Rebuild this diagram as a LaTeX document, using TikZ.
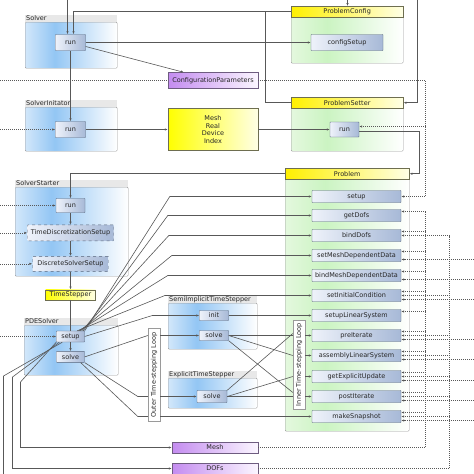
\documentclass[tikz,border=0pt]{standalone}
\usepackage{fontspec}
\setmainfont{DejaVu Sans}
\usepackage{graphicx}
\usetikzlibrary{positioning, arrows.meta}

\definecolor{wire}{HTML}{585858}
\definecolor{grpLine}{HTML}{9A9A9A}
\definecolor{titleGray}{HTML}{E8E8E8}
\definecolor{bluePale}{HTML}{D2E7FA}
\definecolor{blueMid}{HTML}{93C6F4}
\definecolor{greenPale}{HTML}{E4F8DE}
\definecolor{greenMid}{HTML}{CBF4C2}
\definecolor{hdrYellow}{HTML}{FFF000}
\definecolor{hdrPale}{HTML}{FFFFE6}
\definecolor{hdrLine}{HTML}{6E6E50}
\definecolor{methLight}{HTML}{EEF2FA}
\definecolor{methDark}{HTML}{A7B9D7}
\definecolor{methLine}{HTML}{56647A}
\definecolor{purpDark}{HTML}{C48CF0}
\definecolor{purpPale}{HTML}{FBF6FF}
\definecolor{purpLine}{HTML}{6E5C80}

\pgfdeclarehorizontalshading{blueGrp}{100bp}{color(0bp)=(bluePale); color(25bp)=(bluePale); color(41bp)=(blueMid); color(75bp)=(white); color(100bp)=(white)}
\pgfdeclarehorizontalshading{greenGrp}{100bp}{color(0bp)=(greenPale); color(25bp)=(greenPale); color(41bp)=(greenMid); color(75bp)=(white); color(100bp)=(white)}
\pgfdeclarehorizontalshading{hdrShade}{100bp}{color(0bp)=(hdrYellow); color(25bp)=(hdrYellow); color(75bp)=(hdrPale); color(100bp)=(hdrPale)}
\pgfdeclarehorizontalshading{methShade}{100bp}{color(0bp)=(methLight); color(25bp)=(methLight); color(75bp)=(methDark); color(100bp)=(methDark)}
\pgfdeclarehorizontalshading{purpShade}{100bp}{color(0bp)=(purpDark); color(25bp)=(purpDark); color(75bp)=(purpPale); color(100bp)=(purpPale)}
\pgfdeclarehorizontalshading{yellowShade}{100bp}{color(0bp)=(yellow); color(25bp)=(yellow); color(75bp)=(hdrPale); color(100bp)=(hdrPale)}

\begin{document}
\begin{tikzpicture}[x=1pt, y=-1pt,
        every node/.style={font=\fontsize{6.5}{7.7}\selectfont, text=black!85},
        grp/.style={draw=grpLine, rounded corners=1pt, shading=blueGrp, anchor=north west, inner sep=0pt},
        pgrp/.style={draw=grpLine, rounded corners=1pt, shading=greenGrp, anchor=north west, inner sep=0pt},
        grptitle/.style={anchor=south west, fill=titleGray, inner xsep=1pt, inner ysep=0.5pt, text height=4.8pt, text depth=1.2pt},
        hdr/.style={draw=hdrLine, shading=hdrShade, anchor=north, minimum height=11pt, inner sep=0pt},
        call/.style={draw=methLine, shading=methShade, inner sep=1pt, rounded corners=0.5pt},
        prep/.style={call, dashed},
        method/.style={call, minimum width=89pt, minimum height=12pt},
        param/.style={draw=purpLine, shading=purpShade, inner sep=1pt},
        ybox/.style={draw=hdrLine, shading=yellowShade, inner sep=1pt, align=center},
        loopbox/.style={draw=grpLine, fill=white, minimum width=12pt, inner sep=0pt},
        wireln/.style={wire, line width=0.6pt},
        arr/.style={wireln, -{Latex[length=3pt,width=2.4pt]}},
        dsh/.style={wireln, dash pattern=on 1pt off 1pt},
        dsharr/.style={dsh, -{Latex[length=3pt,width=2.4pt]}}
    ]
        \useasboundingbox (0,0) rectangle (474,474);
        % Solver
        \node[grp, minimum width=92pt, minimum height=46pt] (solverBox) at (25,22) {};
        \node[grptitle, text width=90pt] (solverTitle) at (solverBox.north west) {Solver};
        \node[call, minimum width=30pt, minimum height=16pt] (solverRun) at (70.5,42.5) {run};
        % SolverInitator
        \node[grp, minimum width=92pt, minimum height=44pt] (initBox) at (25,107) {};
        \node[grptitle, text width=90pt] (initTitle) at (initBox.north west) {SolverInitator};
        \node[call, minimum width=30pt, minimum height=16pt] (initRun) at (70.5,129.5) {run};
        % SolverStarter
        \node[grp, minimum width=113pt, minimum height=89pt] (starterBox) at (15,187) {};
        \node[grptitle, text width=111pt] (starterTitle) at (starterBox.north west) {SolverStarter};
        \node[call, minimum width=29pt, minimum height=14pt] (starterRun) at (70.5,205.5) {run};
        \node[prep, minimum width=86pt, minimum height=16pt, below=12pt of starterRun] (tds) {TimeDiscretizationSetup};
        \node[prep, minimum width=76pt, minimum height=15pt, below=15pt of tds] (dss) {DiscreteSolverSetup};
        \node[ybox, minimum width=50pt, minimum height=10pt, below=18pt of dss] (timeStepper) {TimeStepper};
        % PDESolver
        \node[grp, minimum width=94pt, minimum height=50pt] (pdeBox) at (24,325) {};
        \node[grptitle, text width=92pt] (pdeTitle) at (pdeBox.north west) {PDESolver};
        \node[call, minimum width=28pt, minimum height=11pt] (pdeSetup) at (70.5,336.5) {setup};
        \node[call, minimum width=28pt, minimum height=11pt, below=9pt of pdeSetup] (pdeSolve) {solve};
        % time steppers
        \node[grp, minimum width=89pt, minimum height=46pt] (semiBox) at (168,303) {};
        \node[grptitle, text width=87pt] (semiTitle) at (semiBox.north west) {SemiImplicitTimeStepper};
        \node[call, minimum width=29pt, minimum height=10pt] (semiInit) at (214,315.5) {init};
        \node[call, minimum width=29pt, minimum height=10pt] (semiSolve) at (214,335.5) {solve};
        \node[grp, minimum width=89pt, minimum height=30pt] (explBox) at (168,378) {};
        \node[grptitle, text width=87pt] (explTitle) at (explBox.north west) {ExplicitTimeStepper};
        \node[call, minimum width=30pt, minimum height=12pt] (explSolve) at (212,396.5) {solve};
        % loops
        \node[loopbox, minimum height=93pt] (outerLoop) at (154,375) {\rotatebox{90}{Outer Time-stepping Loop}};
        % data
        \node[param, minimum width=90pt, minimum height=16pt] (cfgParams) at (213,80.5) {ConfigurationParameters};
        \node[ybox, minimum width=90pt, minimum height=42pt] (meshData) at (213,129.5) {Mesh\\Real\\Device\\Index};
        \node[param, minimum width=86pt, minimum height=11pt] (mesh) at (215,447.5) {Mesh};
        \node[param, minimum width=86pt, minimum height=11pt] (dofs) at (215,468.5) {DOFs};
        % ProblemConfig and ProblemSetter
        \node[pgrp, minimum width=112pt, minimum height=57pt] (pcBox) at (291,6) {};
        \node[hdr, minimum width=112pt] (pcHead) at (pcBox.north) {ProblemConfig};
        \node[call, minimum width=72pt, minimum height=16pt] (confSetup) at (347,42.5) {configSetup};
        \node[pgrp, minimum width=112pt, minimum height=54pt] (psBox) at (291,97) {};
        \node[hdr, minimum width=112pt] (psHead) at (psBox.north) {ProblemSetter};
        \node[call, minimum width=29pt, minimum height=15pt] (psRun) at (344.5,129.5) {run};
        % Problem
        \node[pgrp, minimum width=124pt, minimum height=263pt] (probBox) at (285,168) {};
        \node[hdr, minimum width=124pt] (probHead) at (probBox.north) {Problem};
        \foreach \n/\t/\y in {mSetup/setup/196.5, mGetDofs/getDofs/215.5, mBindDofs/bindDofs/235.5,
            mSetMesh/setMeshDependentData/255.5, mBindMesh/bindMeshDependentData/275.5,
            mInitCond/setInitialCondition/295.5, mLinSys/setupLinearSystem/315.5,
            mPreIter/preIterate/335.5, mAssembly/assemblyLinearSystem/355.5,
            mExplUpd/getExplicitUpdate/376.5, mPostIter/postIterate/396.5, mSnapshot/makeSnapshot/416.5}
            \node[method] (\n) at (356.5,\y) {\t};
        \node[loopbox, minimum height=89pt] (innerLoop) at (299,364.5) {\rotatebox{90}{Inner Time-stepping Loop}};
        % helper coordinates
        \coordinate (edgeL) at (0,0);
        \coordinate (edgeR) at (474,0);
        \coordinate (topIn) at (67.5,0);
        \coordinate (topCfg) at (347.5,0);
        \coordinate (topSet) at (417.5,0);
        \coordinate (cfgJoin) at (265.5,0);
        \coordinate (setCol) at (419.5,0);
        \coordinate (meshCol) at (425.5,0);
        \coordinate (dofsCol) at (449.5,0);
        \coordinate (meshBend) at (20.5,382);
        \coordinate (dofsBend) at (12.5,377);
        \coordinate (leftOut) at (3.5,376);
        % top part
        \draw[arr] (topIn) -- (topIn |- solverRun.north);
        \draw[arr] (pcHead.west) -| ([xshift=3pt]solverRun.north);
        \draw[wireln] (psHead.west) -| (cfgJoin |- pcHead.west);
        \draw[arr] (topCfg) -- (topCfg |- pcHead.north);
        \draw[arr] (topSet) |- (psHead.east);
        \draw[arr] (solverRun.east) -- (confSetup.west);
        \draw[arr] ([yshift=-4pt]solverRun.east) -- ([xshift=16pt]cfgParams.north west);
        \draw[arr] (solverRun.south) -- (initRun.north);
        \draw[dsh] (edgeL |- cfgParams) -- (cfgParams.west);
        \draw[dsharr] (cfgParams.east) -| (meshCol |- mSetup.east) -- (mSetup.east);
        \path ([yshift=3pt]psRun.east) coordinate (psIn);
        \draw[dsharr] (meshCol |- psIn) -- (psIn);
        \draw[arr] ([yshift=-2pt]psRun.east) -| (setCol |- probHead.east) -- (probHead.east);
        \draw[dsharr] (edgeL |- initRun) -- (initRun.west);
        \draw[arr] (initRun.east) -- (meshData.west);
        \draw[arr] (meshData.east) -- (psRun.west);
        % starter chain
        \draw[arr] (probHead.west) -| (starterRun.north);
        \foreach \m in {starterRun, tds, dss, pdeSetup}
            \draw[dsharr] (edgeL |- \m) -- (\m.west);
        \draw[arr] (starterRun.south) -- (tds.north);
        \draw[arr] (tds.south) -- (dss.north);
        \draw[arr] (dss.south) -- (timeStepper.north);
        \draw[wireln] (timeStepper.south) -- (pdeSetup.north);
        \draw[arr] (pdeSetup.south) -- (pdeSolve.north);
        % setup fan
        \foreach \m/\dx/\sx in {mSetup/142/0, mGetDofs/144/1.5, mBindDofs/143/3, mSetMesh/140/4.5, mBindMesh/144/6, mInitCond/147/7.5}
            \draw[arr] ([xshift=-\sx pt]pdeSetup.north east) -- ([xshift=-\dx pt]\m.west) -- (\m.west);
        \draw[arr] (pdeSetup.east) -- ([xshift=-47pt]semiInit.west) -- (semiInit.west);
        \draw[arr] (semiInit.east) -- (mLinSys.west);
        \draw[arr] (pdeSetup.south west) -- (meshBend) |- (mesh.west);
        \draw[arr] ([xshift=3pt]pdeSetup.south west) -- (dofsBend) |- (dofs.west);
        \draw[wireln] ([xshift=6pt]pdeSetup.south west) -- (leftOut) -- (leftOut |- dofs.south);
        % outer loop
        \draw[wireln] (pdeSolve.east) -- (outerLoop.west |- semiSolve);
        \draw[wireln] (pdeSolve.south east) -- ([xshift=-10pt]outerLoop.west |- explSolve) -- (outerLoop.west |- explSolve);
        \draw[wireln] ([xshift=-4pt]pdeSolve.south east) -- ([xshift=-10pt]outerLoop.west |- mSnapshot) -- (outerLoop.west |- mSnapshot);
        \foreach \m in {semiSolve, explSolve, mSnapshot}
            \draw[arr] (outerLoop.east |- \m) -- (\m.west);
        % inner loop
        \draw[wireln] (semiSolve.east) -- (innerLoop.west |- mPreIter);
        \draw[wireln] (semiSolve.east) -- (innerLoop.west |- mAssembly);
        \draw[wireln] (semiSolve.south east) -- ([yshift=4pt]innerLoop.west |- mPostIter);
        \draw[wireln] (explSolve.north east) -- ([yshift=2pt]innerLoop.west |- mPreIter);
        \draw[wireln] (explSolve.east) -- (innerLoop.west |- mExplUpd);
        \draw[wireln] (explSolve.east) -- (innerLoop.west |- mPostIter);
        \foreach \m in {mPreIter, mAssembly, mExplUpd, mPostIter}
            \draw[arr] (innerLoop.east |- \m) -- (\m.west);
        % data columns on the right
        \path ([yshift=4pt]mGetDofs.east) coordinate (meshTop);
        \draw[dsh] (mesh.east) -| (meshCol |- meshTop);
        \draw[dsh] (dofs.east) -| (dofsCol |- mBindDofs.east);
        \foreach \m in {mGetDofs, mBindDofs, mSetMesh, mBindMesh, mInitCond, mLinSys, mPreIter, mAssembly, mExplUpd, mPostIter, mSnapshot}{
            \path ([yshift=4pt]\m.east) coordinate (tipPt);
            \draw[dsharr] (meshCol |- tipPt) -- (tipPt);
        }
        \foreach \m in {mBindDofs, mInitCond, mPreIter, mAssembly, mExplUpd, mPostIter, mSnapshot}
            \draw[dsharr] (dofsCol |- \m.east) -- (\m.east);
        \foreach \m in {mSetMesh, mBindMesh, mInitCond, mPreIter, mAssembly, mExplUpd, mPostIter, mSnapshot}{
            \path ([yshift=-4pt]\m.east) coordinate (tipPt);
            \draw[dsharr] (edgeR |- tipPt) -- (tipPt);
        }
    \end{tikzpicture}
\end{document}
